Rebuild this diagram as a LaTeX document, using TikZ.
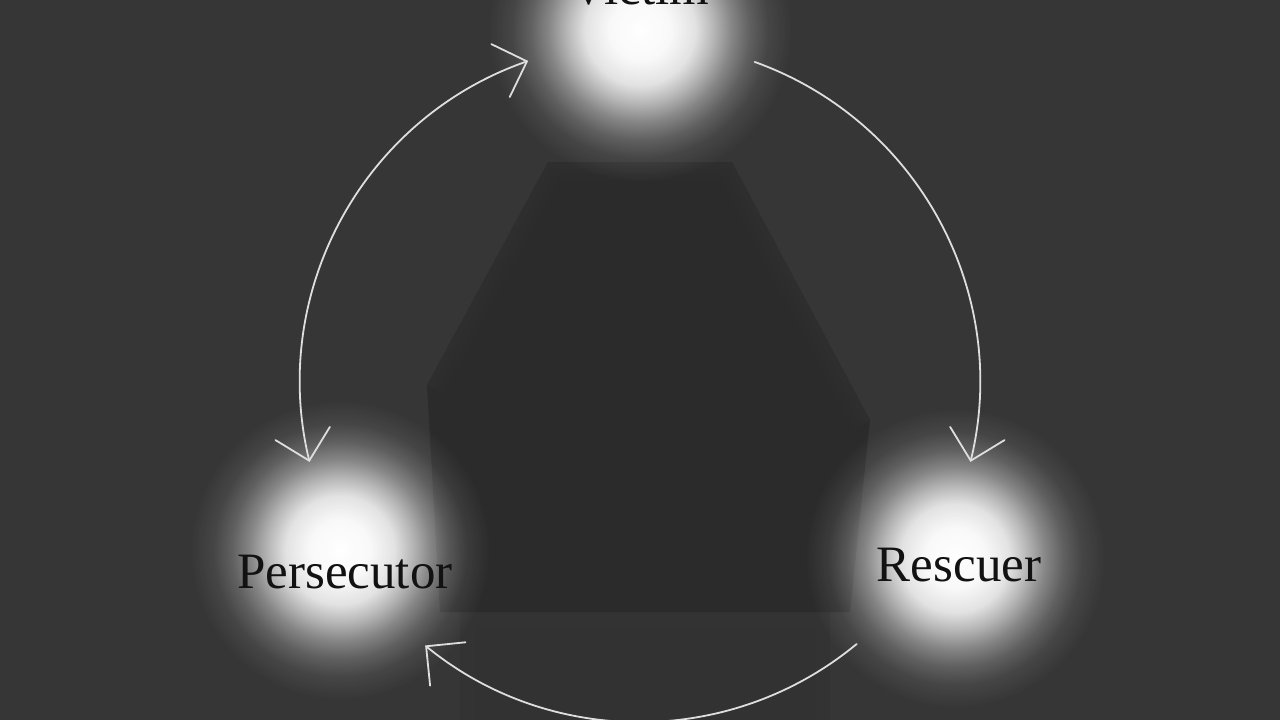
\documentclass[tikz,border=0pt]{standalone}
\usepackage{fontspec}
\setmainfont{Liberation Serif}
\usetikzlibrary{arrows.meta,calc,fadings}
\definecolor{bg}{RGB}{54,54,54}
\definecolor{darkzone}{RGB}{43,43,43}
\definecolor{band}{RGB}{50,50,50}
\definecolor{arcgray}{RGB}{222,222,222}
\definecolor{ink}{RGB}{18,18,18}
\pgfdeclareradialshading{glowmask}{\pgfpointorigin}{color(0bp)=(white); color(5bp)=(white!97!black); color(9bp)=(white!86!black); color(12bp)=(white!64!black); color(15bp)=(white!40!black); color(18bp)=(white!21!black); color(21bp)=(white!8!black); color(25bp)=(black); color(50bp)=(black)}
\pgfdeclarefading{glowfade}{\pgfuseshading{glowmask}}
\tikzset{
  glow/.style={fill=white, path fading=glowfade},
  cyclearc/.style={draw=arcgray, line width=1.8pt, line cap=round},
  barb/.tip={Straight Barb[length=28pt, width=56pt, line cap=round]},
  role/.style={text=ink, font=\fontsize{51}{61}\selectfont, anchor=base, inner sep=0pt},
  feather/.style={line join=round}
}
\begin{document}
\begin{tikzpicture}[x=1pt,y=-1pt]
\fill[bg] (0,0) rectangle (1280,720);
\useasboundingbox (0,0) rectangle (1280,720);
\clip (0,0) rectangle (1280,720);
% slightly darker band under the central zone
\fill[band] (460,612) rectangle (830,720);
\foreach \w/\o in {40/0.2, 28/0.25, 14/0.3}{
  \draw[feather, draw=bg, line width=\w pt, opacity=\o] (460,720) -- (460,612) -- (830,612) -- (830,720);
}
% darker central zone
\fill[darkzone] (548,162) -- (732,162) -- (870,420) -- (850,612) -- (440,612) -- (427,385) -- cycle;
\foreach \w/\o in {36/0.12, 24/0.15, 12/0.2}{
  \draw[feather, draw=bg, line width=\w pt, opacity=\o] (427,385) -- (548,162) -- (732,162) -- (870,420);
}
% glows
\fill[glow] (640,30) circle (152);
\fill[glow] (340,550) circle (150);
\fill[glow] (955,558) circle (150);
% labels
\node[role] (victim) at (640,5) {Victim};
\node[role] (pers) at (345,588) {Persecutor};
\node[role] (resc) at (959,581) {Rescuer};
% cycle arcs
\coordinate (ctr) at (640,382);
\coordinate (vl) at ($(ctr)+(250.8:340)$);
\coordinate (vr) at ($(ctr)+(-70.3:340)$);
\coordinate (rt) at ($(ctr)+(50.4:340)$);
\draw[cyclearc, barb-barb] (vl) arc[start angle=250.8, end angle=166.4, radius=340];
\draw[cyclearc, -barb] (vr) arc[start angle=-70.3, end angle=13.6, radius=340];
\draw[cyclearc, -barb] (rt) arc[start angle=50.4, end angle=129.2, radius=340];
\end{tikzpicture}
\end{document}
